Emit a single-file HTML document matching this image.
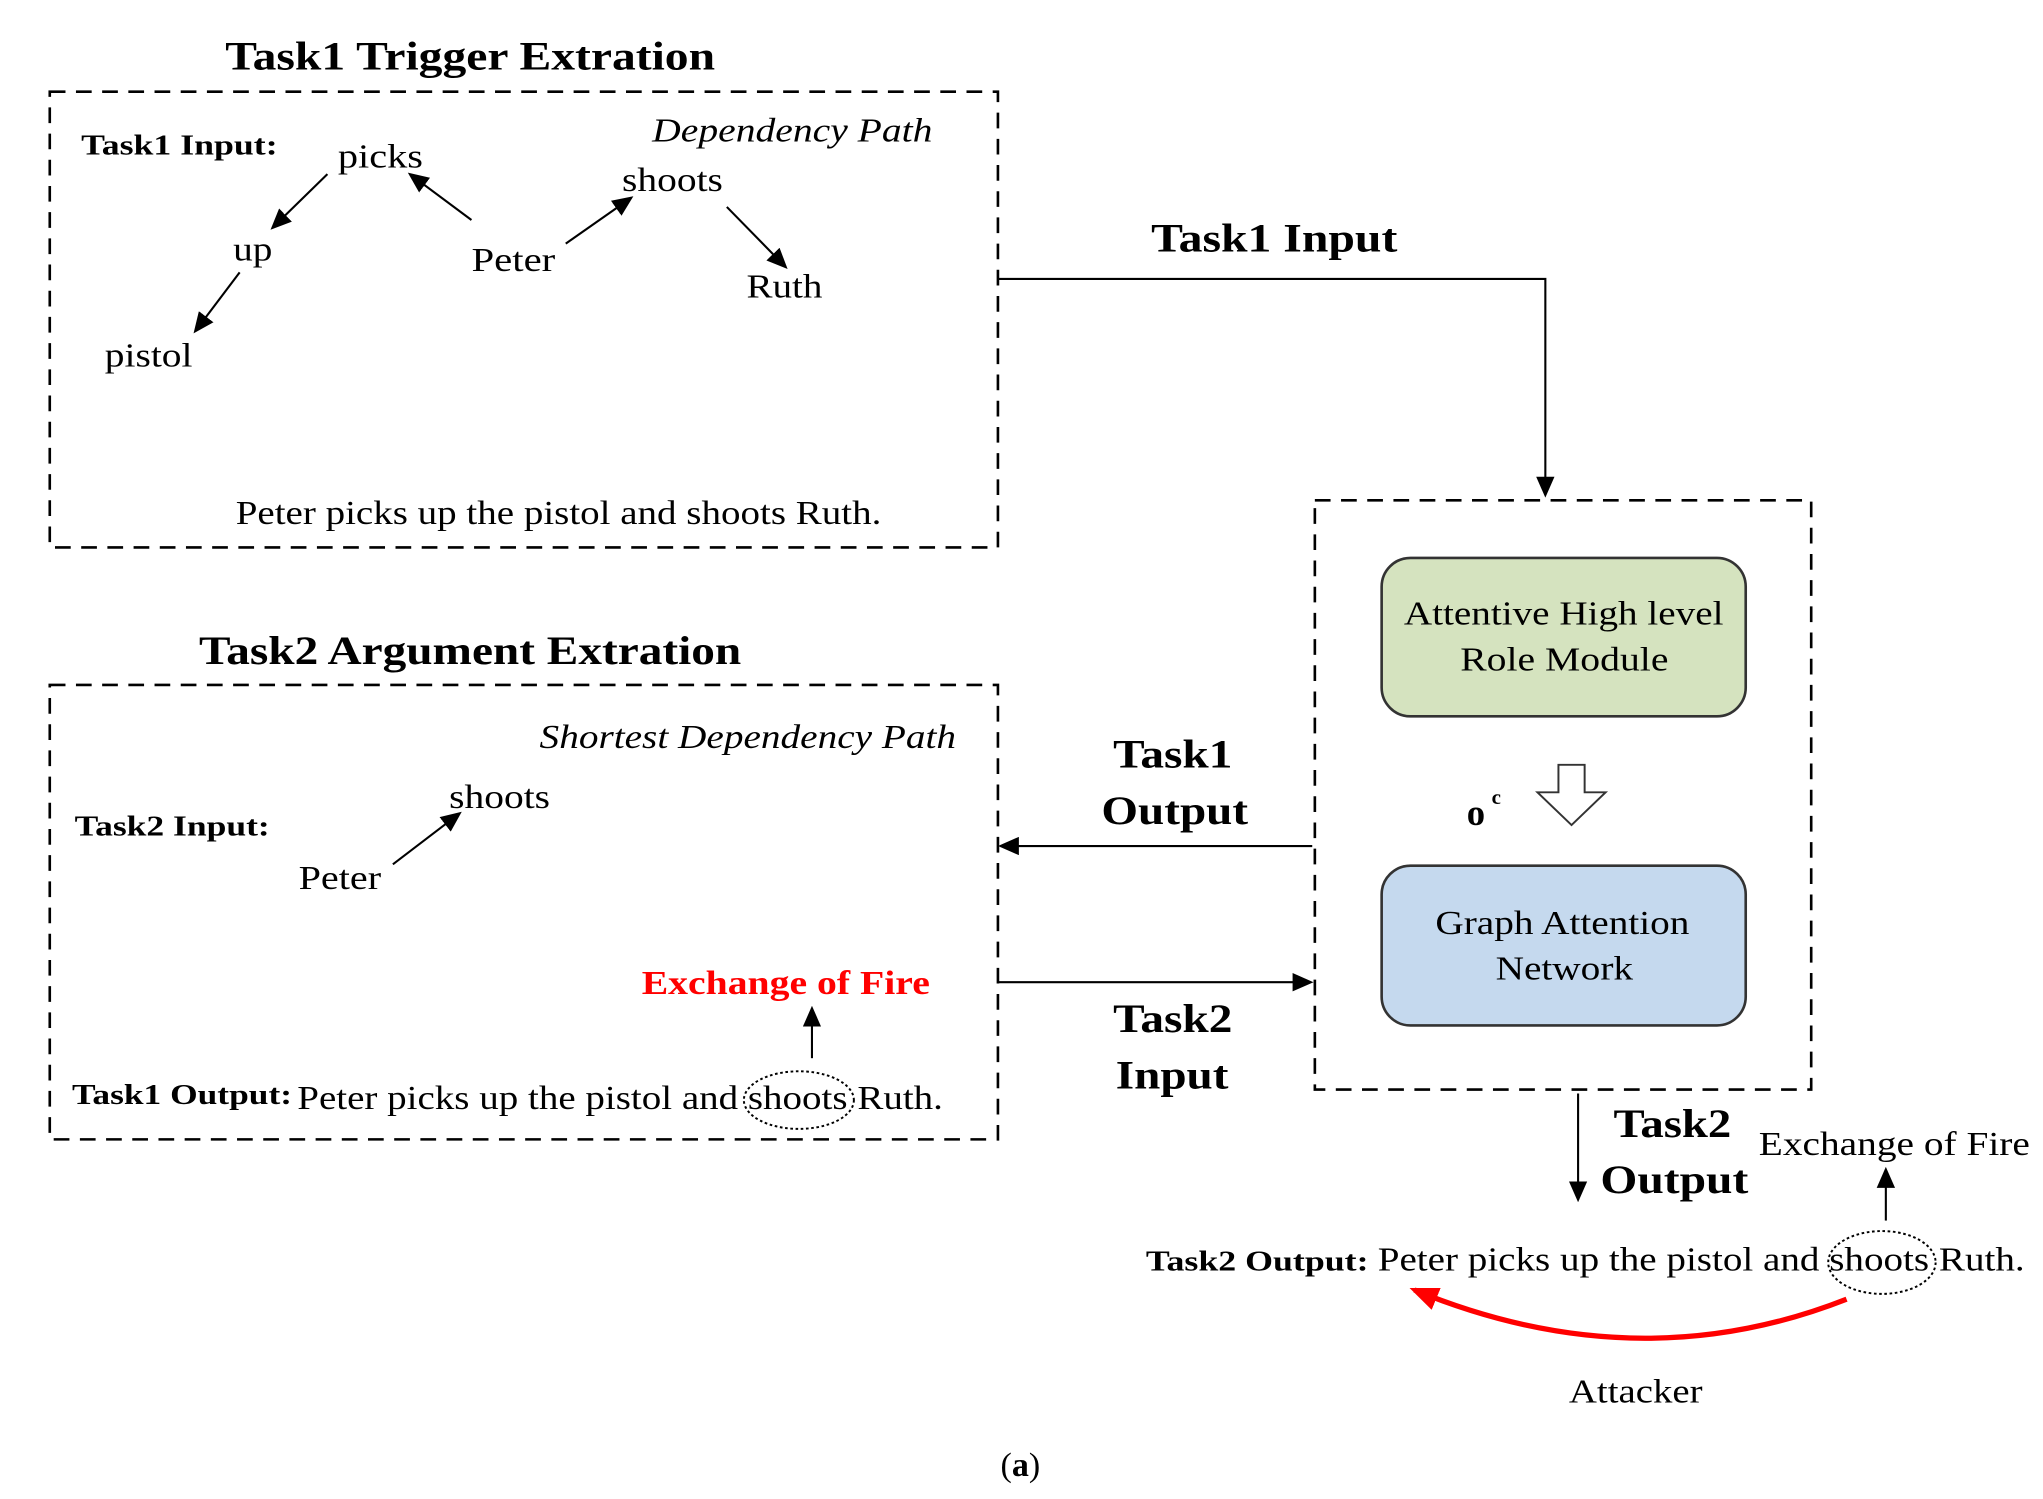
<!DOCTYPE html>
<html><head><meta charset="utf-8"><style>
html,body{margin:0;padding:0;background:#fff;}
svg{display:block;}
text{font-family:"Liberation Serif",serif;fill:#000;}
.b{font-weight:bold;}
</style></head><body>
<svg width="2043" height="1499" viewBox="0 0 1560 1144.6" preserveAspectRatio="none" xmlns="http://www.w3.org/2000/svg">
<defs>
<marker id="ah2" markerWidth="16" markerHeight="14" refX="14" refY="7" orient="auto" markerUnits="userSpaceOnUse"><path d="M0,0 L16,7 L0,14 z" fill="#000"/></marker>
<marker id="ahr" markerWidth="22" markerHeight="18" refX="18" refY="9" orient="auto" markerUnits="userSpaceOnUse"><path d="M0,0 L22,9 L0,18 z" fill="#f00"/></marker>
</defs>
<g fill="none" stroke="#000" stroke-width="2" stroke-dasharray="12,8">
<rect x="38" y="70" width="724" height="348"/>
<rect x="38" y="523" width="724" height="347"/>
<rect x="1004" y="382" width="379" height="450"/>
</g>
<g lengthAdjust="spacingAndGlyphs">
<text x="172" y="53" class="b" font-size="31" textLength="374" lengthAdjust="spacingAndGlyphs">Task1 Trigger Extration</text>
<text x="152" y="507" class="b" font-size="31" textLength="414" lengthAdjust="spacingAndGlyphs">Task2 Argument Extration</text>
<text x="62" y="118" class="b" font-size="22" textLength="150" lengthAdjust="spacingAndGlyphs">Task1 Input:</text>
<text x="498" y="108" font-size="26" font-style="italic" textLength="214" lengthAdjust="spacingAndGlyphs">Dependency Path</text>
<text x="258" y="128" font-size="26" textLength="65" lengthAdjust="spacingAndGlyphs">picks</text>
<text x="178" y="199" font-size="26" textLength="30" lengthAdjust="spacingAndGlyphs">up</text>
<text x="80" y="280" font-size="26" textLength="67" lengthAdjust="spacingAndGlyphs">pistol</text>
<text x="360" y="207" font-size="26" textLength="64" lengthAdjust="spacingAndGlyphs">Peter</text>
<text x="475" y="146" font-size="26" textLength="77" lengthAdjust="spacingAndGlyphs">shoots</text>
<text x="570" y="227" font-size="26" textLength="58" lengthAdjust="spacingAndGlyphs">Ruth</text>
<text x="180" y="400" font-size="26" textLength="493" lengthAdjust="spacingAndGlyphs">Peter picks up the pistol and shoots Ruth.</text>
</g>
<g stroke="#000" stroke-width="1.6" marker-end="url(#ah2)">
<line x1="250" y1="133" x2="208" y2="174"/>
<line x1="183" y1="208" x2="149" y2="253"/>
<line x1="360" y1="168" x2="313" y2="133"/>
<line x1="432" y1="186" x2="482" y2="151"/>
<line x1="555" y1="158" x2="600" y2="204"/>
<line x1="300" y1="660" x2="351" y2="621"/>
<line x1="620" y1="808" x2="620" y2="770"/>
<line x1="1440" y1="932" x2="1440" y2="893"/>
</g>
<text x="412" y="571" font-size="26" font-style="italic" textLength="318" lengthAdjust="spacingAndGlyphs">Shortest Dependency Path</text>
<text x="57" y="638" class="b" font-size="22" textLength="149" lengthAdjust="spacingAndGlyphs">Task2 Input:</text>
<text x="343" y="617" font-size="26" textLength="77" lengthAdjust="spacingAndGlyphs">shoots</text>
<text x="228" y="679" font-size="26" textLength="63" lengthAdjust="spacingAndGlyphs">Peter</text>
<text x="490" y="759" class="b" font-size="26" style="fill:#f00" textLength="220" lengthAdjust="spacingAndGlyphs">Exchange of Fire</text>
<text x="55" y="843" class="b" font-size="22" textLength="168" lengthAdjust="spacingAndGlyphs">Task1 Output:</text>
<text x="227" y="847" font-size="26" textLength="493" lengthAdjust="spacingAndGlyphs">Peter picks up the pistol and shoots Ruth.</text>
<ellipse cx="610" cy="840" rx="42" ry="22" fill="none" stroke="#000" stroke-width="1.5" stroke-dasharray="2,2"/>
<rect x="1055" y="426" width="278" height="121" rx="22" fill="#d5e3bf" stroke="#333" stroke-width="2"/>
<text x="1072" y="477" font-size="26" textLength="244" lengthAdjust="spacingAndGlyphs">Attentive High level</text>
<text x="1115" y="512" font-size="26" textLength="159" lengthAdjust="spacingAndGlyphs">Role Module</text>
<rect x="1055" y="661" width="278" height="122" rx="22" fill="#c5d9ee" stroke="#333" stroke-width="2"/>
<text x="1096" y="713" font-size="26" textLength="194" lengthAdjust="spacingAndGlyphs">Graph Attention</text>
<text x="1142" y="748" font-size="26" textLength="105" lengthAdjust="spacingAndGlyphs">Network</text>
<text x="1120" y="630" class="b" font-size="28">o</text>
<text x="1139" y="614" class="b" font-size="16">c</text>
<path d="M1190,584 L1210,584 L1210,605 L1226,605 L1200,630 L1174,605 L1190,605 Z" fill="#fff" stroke="#333" stroke-width="1.5"/>
<g stroke="#000" stroke-width="1.6" fill="none">
<polyline points="762,213 1180,213 1180,378" marker-end="url(#ah2)"/>
<line x1="1002" y1="646" x2="764" y2="646" marker-end="url(#ah2)"/>
<line x1="762" y1="750" x2="1001" y2="750" marker-end="url(#ah2)"/>
<line x1="1205" y1="835" x2="1205" y2="916" marker-end="url(#ah2)"/>
</g>
<text x="879" y="192" class="b" font-size="31" textLength="188" lengthAdjust="spacingAndGlyphs">Task1 Input</text>
<text x="850" y="586" class="b" font-size="31" textLength="91" lengthAdjust="spacingAndGlyphs">Task1</text>
<text x="841" y="629" class="b" font-size="31" textLength="112" lengthAdjust="spacingAndGlyphs">Output</text>
<text x="850" y="788" class="b" font-size="31" textLength="91" lengthAdjust="spacingAndGlyphs">Task2</text>
<text x="852" y="831" class="b" font-size="31" textLength="86" lengthAdjust="spacingAndGlyphs">Input</text>
<text x="1232" y="868" class="b" font-size="31" textLength="90" lengthAdjust="spacingAndGlyphs">Task2</text>
<text x="1222" y="911" class="b" font-size="31" textLength="113" lengthAdjust="spacingAndGlyphs">Output</text>
<text x="1343" y="882" font-size="26" textLength="207" lengthAdjust="spacingAndGlyphs">Exchange of Fire</text>
<text x="875" y="970" class="b" font-size="22" textLength="170" lengthAdjust="spacingAndGlyphs">Task2 Output:</text>
<text x="1052" y="970" font-size="26" textLength="494" lengthAdjust="spacingAndGlyphs">Peter picks up the pistol and shoots Ruth.</text>
<ellipse cx="1437" cy="964" rx="41" ry="24" fill="none" stroke="#000" stroke-width="1.5" stroke-dasharray="2,2"/>
<path d="M1410,992 Q1250,1055 1080,985" fill="none" stroke="#f00" stroke-width="4" marker-end="url(#ahr)"/>
<text x="1198" y="1071" font-size="26" textLength="102" lengthAdjust="spacingAndGlyphs">Attacker</text>
<text x="764" y="1127" font-size="26">(<tspan font-weight="bold">a</tspan>)</text>
</svg>
</body></html>
